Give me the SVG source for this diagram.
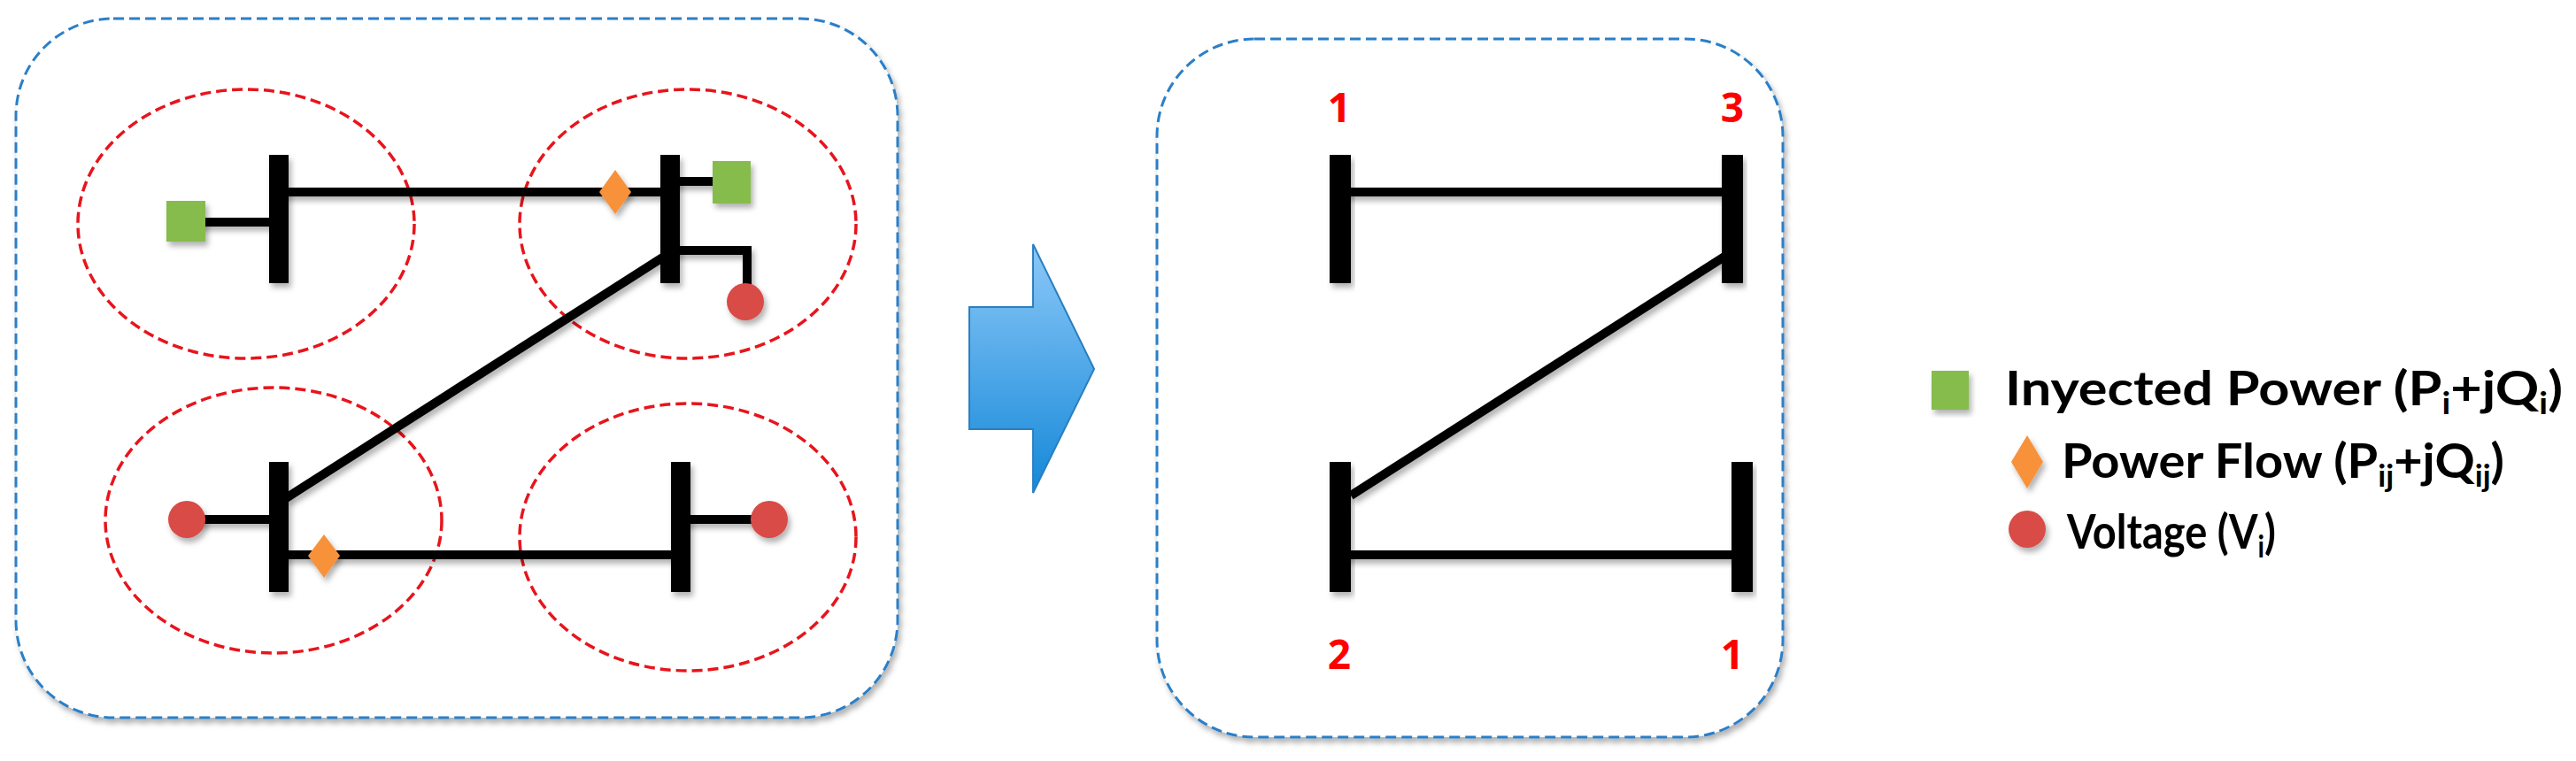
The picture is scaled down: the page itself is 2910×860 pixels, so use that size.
<svg xmlns="http://www.w3.org/2000/svg" width="2910" height="860" viewBox="0 0 2910 860">
<style>
.box{fill:#fff;stroke:#2a7fc8;stroke-width:3;stroke-dasharray:12 6}
.area{fill:none;stroke:#e8141c;stroke-width:3.5;stroke-dasharray:12 6}
.bar{fill:#000}
.ln{stroke:#000;stroke-width:10;fill:none}
.sq{fill:#86bc4b}
.dm{fill:#f7923a}
.dot{fill:#d84b47}
.num{font-family:"Open Sans","Liberation Sans",sans-serif;font-weight:bold;font-size:46px;fill:#f00;text-anchor:middle}
.lg{font-family:Lato,"Liberation Sans",sans-serif;font-weight:bold;font-size:54px;fill:#000}
.sub{font-size:34px}
</style>
<defs>
<filter id="sh" x="-20%" y="-20%" width="140%" height="140%"><feDropShadow dx="3" dy="5" stdDeviation="3" flood-opacity="0.3"/></filter>
<linearGradient id="ag" x1="0" y1="0" x2="0" y2="1"><stop offset="0" stop-color="#8cc8f8"/><stop offset="1" stop-color="#1488d8"/></linearGradient>
</defs>
<g id="left-panel">
<rect class="box" x="18" y="21" width="996" height="790" rx="110" filter="url(#sh)"/>
<ellipse class="area" cx="278" cy="253" rx="190" ry="152"/>
<ellipse class="area" cx="777" cy="253" rx="190" ry="152"/>
<ellipse class="area" cx="309" cy="588" rx="190" ry="150"/>
<ellipse class="area" cx="777" cy="607" rx="190" ry="151"/>
</g>
<g id="right-panel"><rect class="box" x="1307" y="44" width="707" height="789" rx="110" filter="url(#sh)"/></g>
<g id="arrow"><polygon points="1095,347 1167,347 1167,276 1236,417 1167,557 1167,485 1095,485" fill="url(#ag)" stroke="#2a7fc0" stroke-width="2"/></g>
<g id="connectors" filter="url(#sh)">
<line class="ln" x1="315" y1="217" x2="757" y2="217"/>
<line class="ln" x1="225" y1="251" x2="315" y2="251"/>
<line class="ln" x1="757" y1="205" x2="812" y2="205"/>
<polyline class="ln" points="757,283 844,283 844,335" stroke-width="7"/>
<line class="ln" x1="750" y1="290" x2="323" y2="563"/>
<line class="ln" x1="215" y1="587" x2="315" y2="587"/>
<line class="ln" x1="315" y1="627" x2="769" y2="627"/>
<line class="ln" x1="769" y1="587" x2="860" y2="587"/>
<line class="ln" x1="1514" y1="217" x2="1957" y2="217"/>
<line class="ln" x1="1948" y1="290" x2="1526" y2="560"/>
<line class="ln" x1="1514" y1="627" x2="1968" y2="627"/>
</g>
<g id="bus-L1" filter="url(#sh)"><rect class="bar" x="304" y="175" width="22" height="145"/><rect class="sq" x="188" y="227" width="44" height="46"/></g>
<g id="bus-L3" filter="url(#sh)"><rect class="bar" x="746" y="175" width="22" height="145"/><rect class="sq" x="805" y="182" width="43" height="48"/><circle class="dot" cx="842" cy="341" r="21"/><polygon class="dm" points="695,192 713,217 695,242 677,217"/></g>
<g id="bus-L2" filter="url(#sh)"><rect class="bar" x="304" y="522" width="22" height="147"/><circle class="dot" cx="211" cy="587" r="21"/><polygon class="dm" points="366,604 384,628 366,653 348,628"/></g>
<g id="bus-L4" filter="url(#sh)"><rect class="bar" x="758" y="522" width="22" height="147"/><circle class="dot" cx="869" cy="587" r="21"/></g>
<g id="bus-R1" filter="url(#sh)"><rect class="bar" x="1502" y="175" width="24" height="145"/></g>
<g id="bus-R3" filter="url(#sh)"><rect class="bar" x="1945" y="175" width="24" height="145"/></g>
<g id="bus-R2" filter="url(#sh)"><rect class="bar" x="1502" y="522" width="24" height="147"/></g>
<g id="bus-R4" filter="url(#sh)"><rect class="bar" x="1956" y="522" width="24" height="147"/></g>
<g id="labels">
<text class="num" x="1513" y="138">1</text>
<text class="num" x="1957" y="138">3</text>
<text class="num" x="1513" y="756">2</text>
<text class="num" x="1957" y="756">1</text>
</g>
<g id="legend">
<rect class="sq" x="2182" y="419" width="42" height="44" filter="url(#sh)"/>
<text class="lg" x="2265" y="458" textLength="630" lengthAdjust="spacingAndGlyphs">Inyected Power (P<tspan class="sub" dy="10">i</tspan><tspan dy="-10">+jQ</tspan><tspan class="sub" dy="10">i</tspan><tspan dy="-10">)</tspan></text>
<polygon class="dm" points="2290,492 2308,522 2290,552 2272,522" filter="url(#sh)"/>
<text class="lg" x="2329" y="540" textLength="500" lengthAdjust="spacingAndGlyphs">Power Flow (P<tspan class="sub" dy="10">ij</tspan><tspan dy="-10">+jQ</tspan><tspan class="sub" dy="10">ij</tspan><tspan dy="-10">)</tspan></text>
<circle class="dot" cx="2290" cy="598" r="21" filter="url(#sh)"/>
<text class="lg" x="2335" y="620" textLength="236" lengthAdjust="spacingAndGlyphs">Voltage (V<tspan class="sub" dy="10">i</tspan><tspan dy="-10">)</tspan></text>
</g>
</svg>
